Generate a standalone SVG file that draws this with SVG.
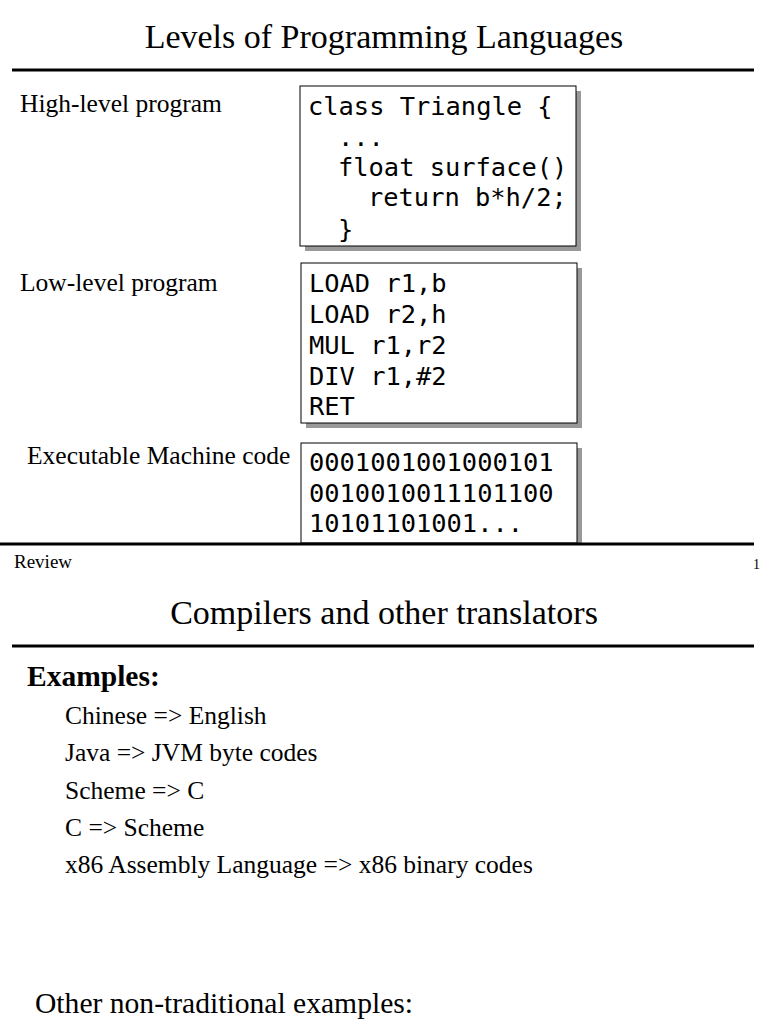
<svg xmlns="http://www.w3.org/2000/svg" width="768" height="1024" viewBox="0 0 768 1024">
<style>
.t{font-family:"Liberation Serif",serif;fill:#000}
.h{font-size:34px;text-anchor:middle}
.l{font-size:25.5px}
.c{font-family:"DejaVu Sans Mono",monospace;font-size:25.4px;fill:#000}
.box{fill:#fff;stroke:#000;stroke-width:1}
.sh{fill:#999}
.rule{stroke:#000;stroke-width:3}
</style>
<rect width="768" height="1024" fill="#fff"/>
<text class="t h" x="384" y="48">Levels of Programming Languages</text>
<line class="rule" x1="12" y1="70" x2="754" y2="70"/>
<text class="t l" x="20" y="112">High-level program</text>
<g id="high">
<rect class="sh" x="305" y="91" width="276" height="160"/>
<rect class="box" x="300" y="86" width="276" height="160"/>
<text class="c" x="308" y="115">class Triangle {</text>
<text class="c" x="338" y="146">...</text>
<text class="c" x="338" y="176">float surface()</text>
<text class="c" x="368" y="206">return b*h/2;</text>
<text class="c" x="338" y="238">}</text>
</g>
<text class="t l" x="20" y="291">Low-level program</text>
<g id="low">
<rect class="sh" x="306" y="268" width="276" height="160"/>
<rect class="box" x="301" y="263" width="276" height="160"/>
<text class="c" x="309" y="292">LOAD r1,b</text>
<text class="c" x="309" y="323">LOAD r2,h</text>
<text class="c" x="309" y="354">MUL r1,r2</text>
<text class="c" x="309" y="385">DIV r1,#2</text>
<text class="c" x="309" y="415">RET</text>
</g>
<text class="t l" x="27" y="464">Executable Machine code</text>
<g id="machine">
<rect class="sh" x="306" y="448" width="276" height="96"/>
<rect class="box" x="301" y="443" width="276" height="100"/>
<text class="c" x="309" y="471">0001001001000101</text>
<text class="c" x="309" y="502">0010010011101100</text>
<text class="c" x="309" y="532">10101101001...</text>
</g>
<line class="rule" x1="0" y1="544" x2="754" y2="544"/>
<text class="t" x="14" y="568" font-size="19">Review</text>
<text class="t" x="753" y="569" font-size="14">1</text>
<text class="t h" x="384" y="624">Compilers and other translators</text>
<line class="rule" x1="12" y1="646" x2="754" y2="646"/>
<text class="t" x="27" y="686" font-size="29.5" font-weight="bold">Examples:</text>
<text class="t l" x="65" y="724">Chinese =&gt; English</text>
<text class="t l" x="65" y="761">Java =&gt; JVM byte codes</text>
<text class="t l" x="65" y="799">Scheme =&gt; C</text>
<text class="t l" x="65" y="836">C =&gt; Scheme</text>
<text class="t l" x="65" y="873">x86 Assembly Language =&gt; x86 binary codes</text>
<text class="t" x="35" y="1013" font-size="29.6">Other non-traditional examples:</text>
</svg>
